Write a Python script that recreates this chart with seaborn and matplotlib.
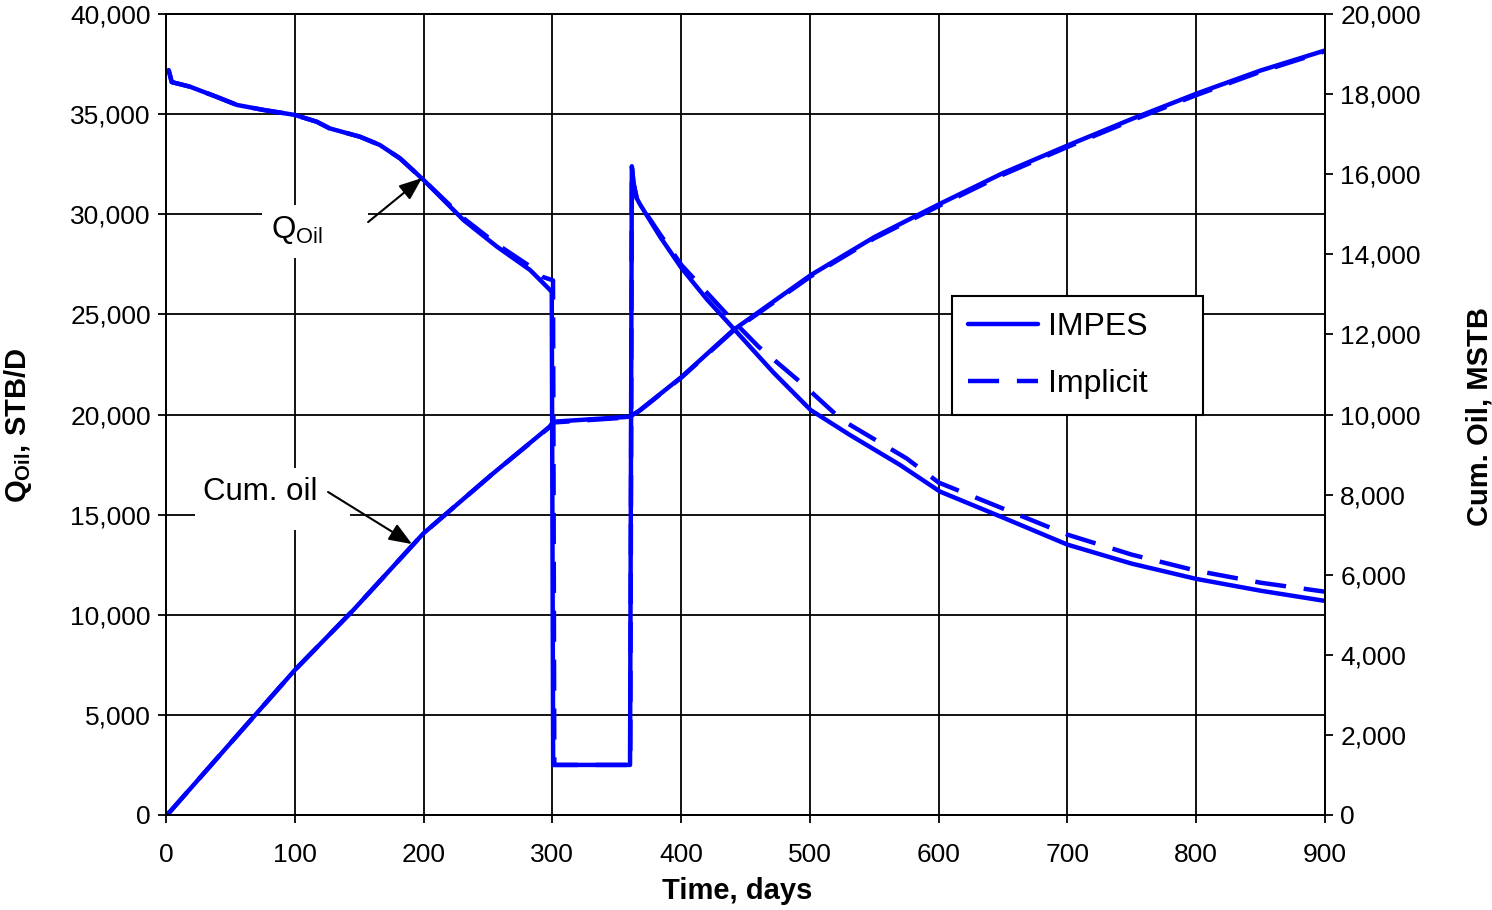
import numpy as np
import pandas as pd
import seaborn as sns
import matplotlib.pyplot as plt
from matplotlib.patches import Rectangle
from matplotlib.ticker import StrMethodFormatter, MultipleLocator

# oil rate, STB/D (left axis)
t_q_impes = [2, 4.4, 18.6, 39, 55, 75.6, 100, 117, 127, 150.6, 166, 181.7, 200, 231, 257, 282.6,
             298.2, 299.5, 300.6, 360.3, 361.7, 363, 365.5, 368, 383.6, 400.4, 420, 442, 471.6,
             500.6, 531, 570, 601, 650, 700, 750, 800, 850, 900]
q_impes = [37200, 36600, 36370, 35870, 35460, 35210, 34960, 34620, 34290, 33870, 33460, 32790,
           31710, 29710, 28380, 27220, 26220, 26100, 2500, 2500, 32400, 31550, 30800, 30500,
           28880, 27300, 25750, 24200, 22100, 20220, 18980, 17480, 16150, 14850, 13500, 12550,
           11790, 11200, 10690]

t_q_implicit = [2, 4.4, 18.6, 39, 55, 75.6, 100, 117, 127, 150.6, 166, 181.7, 200, 231, 257, 282.6,
                292, 300.5, 301.5, 360.5, 361.7, 363, 365.5, 368, 383.6, 400.4, 436, 460, 493.6,
                524.7, 575, 600, 650, 700, 750, 800, 850, 900]
q_implicit = [37200, 36600, 36370, 35870, 35460, 35210, 34960, 34620, 34290, 33870, 33460, 32790,
              31710, 29800, 28500, 27400, 26880, 26700, 2500, 2500, 32400, 31550, 30800, 30500,
              29000, 27450, 24970, 23390, 21560, 19730, 17810, 16600, 15300, 14000, 13000, 12200,
              11600, 11150]

# cumulative oil, MSTB (right axis)
t_cum = [0, 3, 70.4, 100, 145.5, 199.8, 254, 298, 300.6, 360.3, 368, 400.4, 440.5, 500.6, 550,
         601.5, 650, 701, 750, 800.8, 850, 900]
cum_impes = [0, 80, 2540, 3620, 5120, 7030, 8530, 9700, 9820, 9945, 10110, 10940, 12110, 13480,
             14430, 15270, 16030, 16730, 17380, 18020, 18590, 19090]
cum_implicit = [0, 80, 2540, 3620, 5120, 7030, 8530, 9690, 9800, 9930, 10100, 10930, 12090, 13450,
                14400, 15230, 15990, 16695, 17345, 17985, 18560, 19070]

blue = "#0000ff"
dash = (7.0, 4.0)

sns.set_style("white")
plt.rcParams["font.family"] = ["Liberation Sans", "DejaVu Sans"]
plt.rcParams["mathtext.fontset"] = "custom"
plt.rcParams["mathtext.rm"] = "Liberation Sans"
plt.rcParams["mathtext.bf"] = "Liberation Sans:bold"
for k in ["text.color", "axes.labelcolor", "xtick.color", "ytick.color"]:
    plt.rcParams[k] = "black"

fig, ax = plt.subplots(figsize=(14.92, 9.10), dpi=100)
fig.subplots_adjust(left=0.1113, right=0.8881, top=0.9846, bottom=0.1044)
ax2 = ax.twinx()

sns.lineplot(x=t_q_impes, y=q_impes, ax=ax, color=blue, lw=3.2, sort=False, estimator=None)
sns.lineplot(x=t_q_implicit, y=q_implicit, ax=ax, color=blue, lw=3.2, sort=False, estimator=None)
ax.lines[1].set_dashes(dash)

sns.lineplot(x=t_cum, y=cum_impes, ax=ax2, color=blue, lw=3.2, sort=False, estimator=None)
sns.lineplot(x=t_cum, y=cum_implicit, ax=ax2, color=blue, lw=3.2, sort=False, estimator=None)
ax2.lines[1].set_dashes(dash)

ax.set_xlim(0, 900)
ax.set_ylim(0, 40000)
ax2.set_ylim(0, 20000)
ax.xaxis.set_major_locator(MultipleLocator(100))
ax.yaxis.set_major_locator(MultipleLocator(5000))
ax2.yaxis.set_major_locator(MultipleLocator(2000))
ax.yaxis.set_major_formatter(StrMethodFormatter("{x:,.0f}"))
ax2.yaxis.set_major_formatter(StrMethodFormatter("{x:,.0f}"))

ax.grid(True, color="black", lw=1.3)
ax.set_axisbelow(True)
for a in (ax, ax2):
    for s in a.spines.values():
        s.set_color("black")
        s.set_linewidth(1.3)
ax.tick_params(axis="both", direction="out", length=6, width=1.3, color="black",
               labelsize=19, left=True, bottom=True)
ax.tick_params(axis="y", pad=5)
ax.tick_params(axis="x", pad=14)
ax2.tick_params(axis="y", direction="out", length=6, width=1.3, color="black",
                labelsize=19, right=True, pad=5)

ax.set_xlabel("Time, days", fontsize=21, fontweight="bold")
ax.set_ylabel(r"$\mathbf{Q_{Oil}}$, STB/D", fontsize=21, fontweight="bold")
ax2.set_ylabel("Cum. Oil, MSTB", fontsize=21, fontweight="bold")
ax.xaxis.set_label_coords(0.4927, -0.078)
ax.yaxis.set_label_coords(-0.114, 0.487)
ax2.yaxis.set_label_coords(1.1208, 0.498)

# white boxes behind the curve labels
ax.add_patch(Rectangle((0.0828, 0.6954), 0.0915, 0.0662, transform=ax.transAxes,
                       fc="white", ec="none", zorder=1))
ax.add_patch(Rectangle((0.0250, 0.3558), 0.1337, 0.0774, transform=ax.transAxes,
                       fc="white", ec="none", zorder=1))

arrow = dict(arrowstyle="-|>,head_length=1.4,head_width=0.55", color="black", lw=1.5,
             shrinkA=0, shrinkB=0)
ax.text(101.5, 29210, r"$\mathregular{Q_{Oil}}$", fontsize=22.5, ha="center", va="center", zorder=3)
ax.annotate("", xy=(198.8, 31810), xytext=(156.9, 29610), arrowprops=arrow, zorder=3)
ax.text(73, 16130, "Cum. oil", fontsize=22.5, ha="center", va="center", zorder=3)
ax.annotate("", xy=(191, 13530), xytext=(125.8, 16130), arrowprops=arrow, zorder=3)

leg = ax2.legend(handles=[ax.lines[0], ax.lines[1]], labels=["IMPES", "Implicit"],
                 loc="upper left", bbox_to_anchor=(0.678, 0.5006, 0.2169, 0.1473), mode="expand",
                 borderaxespad=0, fontsize=23, frameon=True, fancybox=False, edgecolor="black",
                 framealpha=1, handlelength=2.2, handletextpad=0.3, labelspacing=0.85,
                 borderpad=0.5)
leg.get_frame().set_linewidth(1.5)

plt.savefig("out.png", dpi=100)
